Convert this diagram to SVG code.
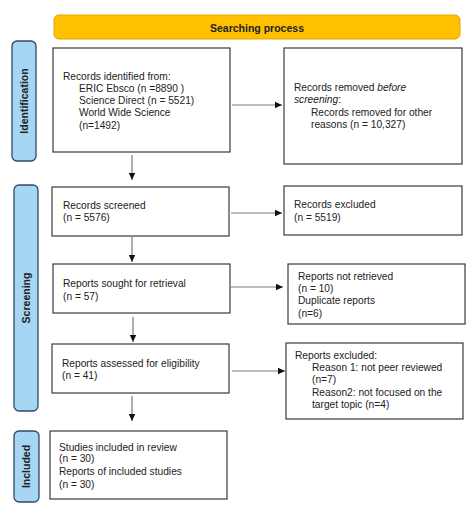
<svg xmlns="http://www.w3.org/2000/svg" width="474" height="514" viewBox="0 0 474 514">
<defs>
<marker id="ah" markerWidth="8" markerHeight="8" refX="7" refY="4" orient="auto" markerUnits="userSpaceOnUse">
<path d="M0,0.8 L7,4 L0,7.2 Z" fill="#111"/>
</marker>
<style>
.box{fill:#fff;stroke:#3a3a3a;stroke-width:1.2}
.tab{fill:#a6d6f3;stroke:#2f4a66;stroke-width:1.3}
.t{font-family:"Liberation Sans",Arial,sans-serif;font-size:10.2px;fill:#222}
.tl{font-family:"Liberation Sans",Arial,sans-serif;font-size:10.5px;font-weight:bold;fill:#222}
.c{stroke:#7a7a7a;stroke-width:1.2;fill:none;marker-end:url(#ah)}
</style>
</defs>
<rect width="474" height="514" fill="#fff"/>
<g id="search">
<rect x="54" y="15" width="406" height="24" rx="5" fill="#ffc000" stroke="#e3a400" stroke-width="1"/>
<text class="tl" x="257" y="31.5" text-anchor="middle">Searching process</text>
</g>
<g id="tab-identification">
<rect class="tab" x="12" y="41" width="24" height="120" rx="5"/>
<text class="tl" transform="translate(27.5,101) rotate(-90)" text-anchor="middle">Identification</text>
</g>
<g id="tab-screening">
<rect class="tab" x="14" y="185" width="24" height="226" rx="5"/>
<text class="tl" transform="translate(29.5,298) rotate(-90)" text-anchor="middle">Screening</text>
</g>
<g id="tab-included">
<rect class="tab" x="14" y="431" width="25" height="71" rx="5"/>
<text class="tl" transform="translate(30,466.5) rotate(-90)" text-anchor="middle">Included</text>
</g>
<g id="n-identified">
<rect class="box" x="53" y="48" width="177" height="104"/>
<text class="t" x="63" y="80">Records identified from:</text>
<text class="t" x="79" y="92">ERIC Ebsco (n =8890 )</text>
<text class="t" x="79" y="104">Science Direct (n = 5521)</text>
<text class="t" x="79" y="116">World Wide Science</text>
<text class="t" x="79" y="129">(n=1492)</text>
</g>
<g id="n-removed">
<rect class="box" x="284" y="48" width="178" height="116"/>
<text class="t" x="294" y="91">Records removed <tspan font-style="italic">before</tspan></text>
<text class="t" x="294" y="103"><tspan font-style="italic">screening</tspan>:</text>
<text class="t" x="311" y="116">Records removed for other</text>
<text class="t" x="311" y="128">reasons (n = 10,327)</text>
</g>
<g id="n-screened">
<rect class="box" x="52" y="187" width="177" height="49"/>
<text class="t" x="63" y="209">Records screened</text>
<text class="t" x="63" y="221">(n = 5576)</text>
</g>
<g id="n-excluded">
<rect class="box" x="284" y="186" width="178" height="49"/>
<text class="t" x="294" y="208">Records excluded</text>
<text class="t" x="294" y="221">(n = 5519)</text>
</g>
<g id="n-sought">
<rect class="box" x="53" y="264" width="177" height="49"/>
<text class="t" x="63" y="287">Reports sought for retrieval</text>
<text class="t" x="63" y="300">(n = 57)</text>
</g>
<g id="n-notretrieved">
<rect class="box" x="288" y="264" width="177" height="60"/>
<text class="t" x="298" y="280">Reports not retrieved</text>
<text class="t" x="298" y="292">(n = 10)</text>
<text class="t" x="298" y="304">Duplicate reports</text>
<text class="t" x="298" y="317">(n=6)</text>
</g>
<g id="n-assessed">
<rect class="box" x="52" y="344" width="177" height="49"/>
<text class="t" x="62" y="367">Reports assessed for eligibility</text>
<text class="t" x="62" y="379">(n = 41)</text>
</g>
<g id="n-reportsexcluded">
<rect class="box" x="286" y="343" width="177" height="76"/>
<text class="t" x="295" y="359">Reports excluded:</text>
<text class="t" x="312" y="371">Reason 1: not peer reviewed</text>
<text class="t" x="312" y="383">(n=7)</text>
<text class="t" x="312" y="396">Reason2: not focused on the</text>
<text class="t" x="312" y="408">target topic (n=4)</text>
</g>
<g id="n-included">
<rect class="box" x="50" y="431" width="177" height="68"/>
<text class="t" x="59" y="451">Studies included in review</text>
<text class="t" x="59" y="462">(n = 30)</text>
<text class="t" x="59" y="475">Reports of included studies</text>
<text class="t" x="59" y="488">(n = 30)</text>
</g>
<g id="connectors">
<line class="c" x1="232" y1="105" x2="282" y2="105"/>
<line class="c" x1="132" y1="155" x2="132" y2="180"/>
<line class="c" x1="231" y1="213" x2="282" y2="213"/>
<line class="c" x1="132" y1="237" x2="132" y2="262"/>
<line class="c" x1="231" y1="287" x2="283" y2="287"/>
<line class="c" x1="133" y1="317" x2="133" y2="342"/>
<line class="c" x1="232" y1="371" x2="285" y2="371"/>
<line class="c" x1="132" y1="396" x2="132" y2="421"/>
</g>
</svg>
